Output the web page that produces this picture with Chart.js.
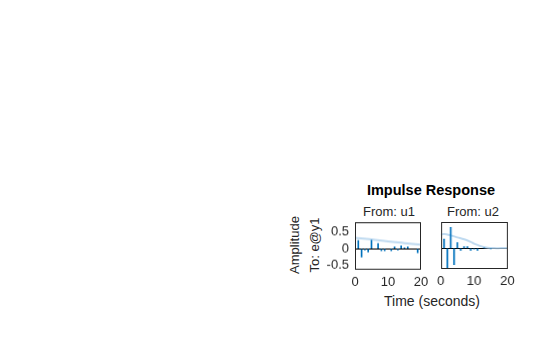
<!DOCTYPE html>
<html>
<head>
<meta charset="utf-8">
<script src="https://cdn.jsdelivr.net/npm/chart.js@4"></script>
<style>
  body { margin: 0; background: #fff; width: 560px; height: 337px; position: relative; overflow: hidden;
         font-family: "Liberation Sans", Arial, sans-serif; color: #262626; }
  .lbl { position: absolute; white-space: nowrap; transform: translate(-50%, -50%); line-height: 1; }
  .rot { transform: translate(-50%, -50%) rotate(-90deg); }
  .wrap { position: absolute; }
</style>
</head>
<body>
<div class="lbl" style="left:431px; top:190px; font-size:14.5px; font-weight:bold; color:#000;">Impulse Response</div>
<div class="lbl" style="left:389px; top:211px; font-size:13px;">From: u1</div>
<div class="lbl" style="left:473px; top:211px; font-size:13px;">From: u2</div>
<div class="lbl rot" style="left:294px; top:245px; font-size:13px;">Amplitude</div>
<div class="lbl rot" style="left:314px; top:245px; font-size:13px;">To: e@y1</div>
<div class="lbl" style="left:432px; top:301px; font-size:14px;">Time (seconds)</div>

<div class="wrap" id="w1" style="left:325px; top:215px; width:100px; height:75px;"><canvas id="c1"></canvas></div>
<div class="wrap" id="w2" style="left:436px; top:215px; width:75px; height:75px;"><canvas id="c2"></canvas></div>

<script>
// Impulse response samples (time, amplitude)
const timeU1 = [1, 2, 3, 4, 5, 7, 8, 9, 11, 12, 13, 14, 15, 16, 19];
const ampU1 = [0.25, -0.25, -0.04, -0.1, 0.26, 0.16, -0.06, -0.06, -0.06, 0.06, -0.04, 0.09, 0.03, 0.06, -0.12];
const timeU2 = [1, 2, 3, 4, 5, 6, 7, 8, 9, 10, 11, 13, 15];
const ampU2 = [0.29, -0.70, 0.65, -0.50, 0.18, -0.06, 0.06, 0.06, -0.06, -0.02, -0.06, 0.02, -0.01];

// Light blue envelope curves
const envTimeU1 = [0, 5, 10, 15, 20];
const envU1 = [0.33, 0.28, 0.22, 0.17, 0.12];
const envTimeU2 = [0, 1, 3, 5, 7, 9, 10, 11, 12, 13, 14, 16, 18, 20];
const envU2 = [0.42, 0.44, 0.40, 0.34, 0.28, 0.20, 0.15, 0.11, 0.07, 0.04, 0.02, 0.01, 0.01, 0.01];

const xTicks = [0, 10, 20];
const yTicks = [-0.5, 0, 0.5];

const stemColor = '#0072BD';
const envColor = 'rgba(170, 205, 235, 0.75)';
const textColor = '#262626';

// draw a box round the plot area
const frame = {
    id: 'frame',
    afterDraw(chart) {
        const { ctx, chartArea: a } = chart;
        ctx.save();
        ctx.strokeStyle = '#262626';
        ctx.lineWidth = 1;
        ctx.strokeRect(Math.round(a.left) + 0.5, Math.round(a.top) + 0.5,
                       Math.round(a.right - a.left) - 1, Math.round(a.bottom - a.top) - 1);
        ctx.restore();
    }
};

function makeChart(id, times, amps, envT, envY, showY) {
    const pairs = times.map((t, i) => ({ x: t, y: amps[i] }));
    const env = envT.map((t, i) => ({ x: t, y: envY[i] }));
    return new Chart(document.getElementById(id), {
        type: 'bar',
        data: {
            datasets: [
                { type: 'line', data: env, borderColor: envColor, borderWidth: 2, pointRadius: 0, tension: 0.4, order: 2 },
                { data: pairs, backgroundColor: stemColor, barThickness: 1, order: 1 }
            ]
        },
        options: {
            responsive: true,
            maintainAspectRatio: false,
            animation: false,
            layout: { autoPadding: false, padding: 0 },
            plugins: { legend: { display: false }, tooltip: { enabled: false } },
            scales: {
                x: {
                    type: 'linear', min: 0, max: 20, offset: false,
                    afterBuildTicks: s => { s.ticks = xTicks.map(v => ({ value: v })); },
                    afterFit: s => { s.height = 21; },
                    grid: { display: false, drawTicks: false },
                    border: { display: false },
                    ticks: { color: textColor, padding: 5, maxRotation: 0, font: { family: 'Liberation Sans', size: 13 } }
                },
                y: {
                    min: -0.63, max: 0.81,
                    display: true,
                    afterBuildTicks: s => { s.ticks = yTicks.map(v => ({ value: v })); },
                    afterFit: s => { s.width = showY ? 30 : 0; },
                    grid: { drawTicks: false, color: c => c.tick && c.tick.value === 0 ? '#000' : 'transparent', lineWidth: 1 },
                    border: { display: false },
                    ticks: { display: showY, color: textColor, padding: 6, font: { family: 'Liberation Sans', size: 13 } }
                }
            }
        },
        plugins: [frame]
    });
}

// move and size the wrapper so the plot area lands on the given box
function placeChart(chart, wrap, box) {
    const a = chart.chartArea;
    const pL = a.left, pR = chart.width - a.right, pT = a.top, pB = chart.height - a.bottom;
    wrap.style.left = (box.left - pL) + 'px';
    wrap.style.top = (box.top - pT) + 'px';
    wrap.style.width = (box.right - box.left + pL + pR) + 'px';
    wrap.style.height = (box.bottom - box.top + pT + pB) + 'px';
    chart.resize();
}

const chart1 = makeChart('c1', timeU1, ampU1, envTimeU1, envU1, true);
const chart2 = makeChart('c2', timeU2, ampU2, envTimeU2, envU2, false);
placeChart(chart1, document.getElementById('w1'), { left: 355, right: 421, top: 222, bottom: 269 });
placeChart(chart2, document.getElementById('w2'), { left: 441, right: 507, top: 222, bottom: 269 });
</script>
</body>
</html>
